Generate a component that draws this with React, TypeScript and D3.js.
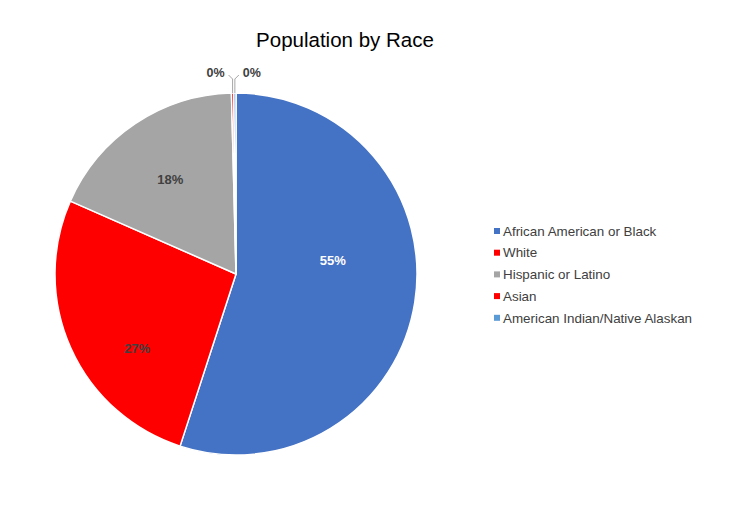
import React from 'react';
import * as d3 from 'd3';

const categories = [
  'African American or Black',
  'White',
  'Hispanic or Latino',
  'Asian',
  'American Indian/Native Alaskan',
];
const shares = [55.0, 26.6, 18.0, 0.2, 0.2];
const sliceColors = ['#4472C4', '#FF0000', '#A5A5A5', '#FF0000', '#5B9BD5'];

const W = 750;
const H = 524;
const cx = 236;
const cy = 274;
const radius = 181;

// Excel "best fit" label spots: nudge from mid-angle (deg) and radius fraction
const insideLabel = [
  { dAngle: -17, rFrac: 0.54, fill: '#FFFFFF' },
  { dAngle: -13, rFrac: 0.685, fill: '#404040' },
  { dAngle: -1, rFrac: 0.635, fill: '#404040' },
];

const App = () => {
  const pie = d3.pie<number>().sort(null).value((d) => d);
  const arcs = pie(shares);
  const arc = d3.arc<d3.PieArcDatum<number>>().innerRadius(0).outerRadius(radius);
  const fmt = (v: number) => `${Math.round(v)}%`;

  const polar = (angle: number, r: number): [number, number] => [
    Math.sin(angle) * r,
    -Math.cos(angle) * r,
  ];

  return (
    <svg width={W} height={H} style={{ display: 'block', position: 'absolute', left: 0, top: 0 }}
      fontFamily="'Liberation Sans', Arial, sans-serif">
      <rect width={W} height={H} fill="#FFFFFF" />
      <text x={345} y={47} textAnchor="middle" fontSize={20.5} fill="#000000">
        Population by Race
      </text>
      <g transform={`translate(${cx},${cy})`}>
        {arcs.map((a, i) => (
          <path key={categories[i]} d={arc(a) || ''} fill={sliceColors[i]}
            stroke="#FFFFFF" strokeWidth={1.5} strokeLinejoin="round" />
        ))}
        {arcs.map((a, i) => {
          const mid = (a.startAngle + a.endAngle) / 2;
          if (i < insideLabel.length) {
            const p = insideLabel[i];
            const [x, y] = polar(mid + (p.dAngle * Math.PI) / 180, radius * p.rFrac);
            return (
              <text key={'l' + i} x={x} y={y} dy="0.35em" textAnchor="middle"
                fontSize={13} fontWeight="bold" fill={p.fill}>
                {fmt(shares[i])}
              </text>
            );
          }
          // tiny slices: leader lines to labels above the pie
          const side = i === 3 ? -1 : 1;
          const [ax, ay] = polar(mid, radius);
          const bendY = ay - 14;
          const endX = ax + side * 4;
          const endY = ay - 18;
          const labelX = endX + side * 13;
          return (
            <g key={'l' + i}>
              <polyline points={`${ax},${ay} ${ax},${bendY} ${endX},${endY}`}
                fill="none" stroke="#A6A6A6" strokeWidth={1} />
              <text x={labelX} y={endY - 2} dy="0.35em" textAnchor="middle"
                fontSize={12.5} fontWeight="bold" fill="#404040">
                {fmt(shares[i])}
              </text>
            </g>
          );
        })}
      </g>
      <g transform="translate(494,231)">
        {categories.map((c, i) => (
          <g key={c} transform={`translate(0,${i * 21.7})`}>
            <rect x={0} y={-3} width={6} height={6} fill={sliceColors[i]} />
            <text x={9} y={0} dy="0.35em" fontSize={13.4} fill="#404040">{c}</text>
          </g>
        ))}
      </g>
    </svg>
  );
};

export default App;
